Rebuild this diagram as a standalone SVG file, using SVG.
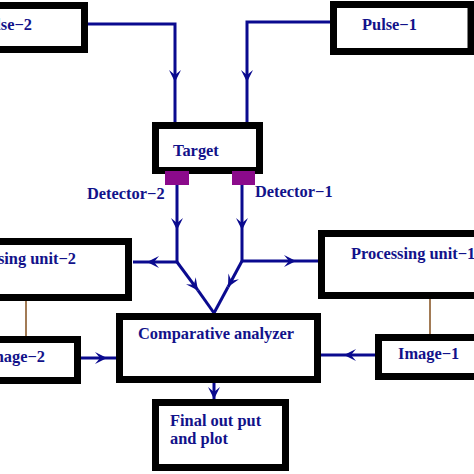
<svg xmlns="http://www.w3.org/2000/svg" width="474" height="474" viewBox="0 0 474 474">
<defs>
<style>
.box{fill:#fff;stroke:#000;stroke-width:7}
.t{font-family:"Liberation Serif","Times New Roman",serif;font-weight:bold;font-size:16.4px;fill:#12128a}
.c{fill:none;stroke:#0a0a8f;stroke-width:3}
.b{fill:none;stroke:#8b5a2b;stroke-width:1.6}
.det{fill:#8b0a8b}
</style>
<marker id="arr" markerUnits="userSpaceOnUse" markerWidth="15" markerHeight="15" viewBox="-13 -7.5 15 15" refX="0" refY="0" orient="auto">
<path d="M0,0 L-12,-6 L-7,0 L-12,6 Z" fill="#0a0a8f"/>
</marker>
</defs>
<rect width="474" height="474" fill="#fff"/>
<g id="connectors">
<path class="c" d="M88,24 H175 V82" marker-end="url(#arr)"/>
<path class="c" d="M175,82 V122"/>
<path class="c" d="M330,22 H247 V82" marker-end="url(#arr)"/>
<path class="c" d="M247,82 V122"/>
<path class="c" d="M177,185 V230" marker-end="url(#arr)"/>
<path class="c" d="M177,230 V262 H147" marker-end="url(#arr)"/>
<path class="c" d="M147,262 H133"/>
<path class="c" d="M177,262 L198,290.4" marker-end="url(#arr)"/>
<path class="c" d="M198,290.4 L214,313"/>
<path class="c" d="M242,185 V230" marker-end="url(#arr)"/>
<path class="c" d="M242,230 V261 H296" marker-end="url(#arr)"/>
<path class="c" d="M296,261 H318"/>
<path class="c" d="M242,261 L228,287" marker-end="url(#arr)"/>
<path class="c" d="M228,287 L214,313"/>
<path class="c" d="M81,358 H107" marker-end="url(#arr)"/>
<path class="c" d="M107,358 H116"/>
<path class="c" d="M375,355 H344" marker-end="url(#arr)"/>
<path class="c" d="M344,355 H321"/>
<path class="c" d="M214,383 V399" marker-end="url(#arr)"/>
<path class="b" d="M26,301 V336"/>
<path class="b" d="M430,299 V334"/>
</g>
<g id="pulse2">
<rect class="box" x="-10" y="5.5" width="94.5" height="44"/>
<text class="t" x="32" y="30" text-anchor="end">Pulse−2</text>
</g>
<g id="pulse1">
<rect class="box" x="333.5" y="4.5" width="137.5" height="47"/>
<text class="t" x="362" y="30">Pulse−1</text>
</g>
<g id="target">
<rect class="box" x="155.5" y="125.5" width="104" height="45"/>
<text class="t" x="173" y="156">Target</text>
</g>
<g id="detector2">
<rect class="det" x="165" y="171" width="24" height="14"/>
<text class="t" x="87" y="199">Detector−2</text>
</g>
<g id="detector1">
<rect class="det" x="232" y="171" width="23" height="14"/>
<text class="t" x="255" y="197">Detector−1</text>
</g>
<g id="processing2">
<rect class="box" x="-10" y="241.5" width="138.5" height="56"/>
<text class="t" x="76" y="264" text-anchor="end">Processing unit−2</text>
</g>
<g id="processing1">
<rect class="box" x="321.5" y="233.5" width="170" height="62"/>
<text class="t" x="351" y="259">Processing unit−1</text>
</g>
<g id="image2">
<rect class="box" x="-10" y="339.5" width="87.5" height="41"/>
<text class="t" x="45" y="362" text-anchor="end">Image−2</text>
</g>
<g id="image1">
<rect class="box" x="378.5" y="337.5" width="110" height="39"/>
<text class="t" x="398" y="359">Image−1</text>
</g>
<g id="comparative">
<rect class="box" x="119.5" y="316.5" width="198" height="63"/>
<text class="t" x="138" y="339">Comparative analyzer</text>
</g>
<g id="final">
<rect class="box" x="155.5" y="402.5" width="130" height="65"/>
<text class="t" x="170" y="426">Final out put</text>
<text class="t" x="170" y="444">and plot</text>
</g>
</svg>
